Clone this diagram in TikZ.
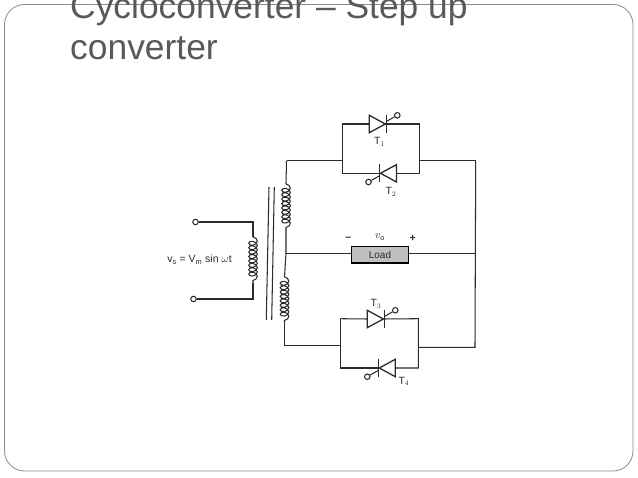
\documentclass[tikz,border=0pt]{standalone}
\usepackage{fontspec}
\setmainfont{Liberation Sans}
\usetikzlibrary{decorations.pathmorphing}
\definecolor{titlegray}{HTML}{595959}
\definecolor{framegray}{HTML}{8C8C8C}
\definecolor{inkgray}{HTML}{2B2B2B}
\tikzset{
  wire/.style={draw=inkgray, line width=1.05pt},
  winding/.style={wire, decorate, decoration={coil, aspect=0.7, segment length=4.4pt, amplitude=4.3pt}},
  term/.style={circle, draw=inkgray, line width=1.05pt, fill=white, inner sep=0pt, minimum size=5.5pt},
  lab/.style={inner sep=0pt, text=inkgray, font=\fontsize{10.5}{12}\selectfont},
  thyr/.pic={
    \coordinate (-a) at (-8,0);
    \coordinate (-k) at (8,0);
    \draw[wire, line width=1.3pt] (-8,-8.7) -- (-8,8.7) -- (8,0) -- cycle;
    \draw[wire, line width=1.3pt] (9,-9) -- (9,9);
    \node[term] (-g) at (20,-8.7) {};
    \coordinate (-b) at (9,-2.5);
    \draw[wire] (-b) -- (-g);
  }
}
\begin{document}
\begin{tikzpicture}[x=1pt, y=-1pt]
  \useasboundingbox (0,0) rectangle (638,478);
  \fill[white] (0,0) rectangle (638,478);
  \draw[framegray, line width=0.8pt, rounded corners=20pt] (4.5,4.5) rectangle (633,471);
  \node[anchor=base west, inner sep=0pt, text=titlegray, font=\fontsize{35.4}{41}\selectfont] (title1) at (70,18.5) {Cycloconverter – Step up};
  \node[anchor=base west, inner sep=0pt, text=titlegray, font=\fontsize{35.4}{41}\selectfont] (title2) at (70,59.5) {converter};

  % primary
  \node[term] (s1) at (195.5,222) {};
  \node[term] (s2) at (193.5,299) {};
  \coordinate (p1) at (253,222);
  \coordinate (p2) at (253,237);
  \coordinate (p3) at (253,283);
  \coordinate (p4) at (253,299);
  \draw[wire] (s1) -- (p1) -- (p2);
  \draw[wire] (p3) -- (p4) -- (s2);
  \draw[winding] (p2) -- (p3);
  \node[lab] (vs) at (199.5,260) {v$_{\mathrm{s}}$ = V$_{\mathrm{m}}$ sin $\omega$t};

  % core
  \coordinate (c1) at (269,187);
  \coordinate (c2) at (266.3,320);
  \coordinate (c3) at (274.3,187);
  \coordinate (c4) at (271.7,320);
  \draw[wire] (c1) -- (c2);
  \draw[wire] (c3) -- (c4);

  % secondary
  \coordinate (u1) at (286.5,160.7);
  \coordinate (u2) at (286,184);
  \coordinate (u3) at (286,230);
  \coordinate (m) at (286,253.3);
  \coordinate (l1) at (284.5,277);
  \coordinate (l2) at (284.5,322);
  \coordinate (l3) at (284.5,345.7);
  \draw[winding] (u2) -- (u3);
  \draw[winding] (l1) -- (l2);
  \draw[wire] (u1) -- (u2);
  \draw[wire] (u3) -- (m) -- (l1);
  \draw[wire] (l2) -- (l3);

  % thyristors
  \pic (t1) at (377.3,124) {thyr};
  \pic[rotate=180] (t2) at (388.5,173.3) {thyr};
  \pic (t3) at (375.3,319) {thyr};
  \pic[rotate=180] (t4) at (387.3,368) {thyr};
  \node[lab] (lt1) at (379.5,142) {T$_1$};
  \node[lab] (lt2) at (391,192) {T$_2$};
  \node[lab] (lt3) at (376,304) {T$_3$};
  \node[lab] (lt4) at (404,381.5) {T$_4$};

  % upper pair
  \coordinate (a1) at (342.3,124);
  \coordinate (a2) at (342.3,160.7);
  \coordinate (a3) at (342.3,173.3);
  \coordinate (b1) at (419.7,124);
  \coordinate (b2) at (419.7,160.7);
  \coordinate (b3) at (419.7,173.3);
  \coordinate (r1) at (475.7,160.7);
  \draw[wire] (a1) -- (t1-a);
  \draw[wire] (t1-k) -- (b1) -- (b3) -- (t2-a);
  \draw[wire] (t2-k) -- (a3) -- (a1);
  \draw[wire] (u1) -- (a2);
  \draw[wire] (b2) -- (r1);

  % lower pair
  \coordinate (d1) at (340.3,318.7);
  \coordinate (d2) at (340.3,345.7);
  \coordinate (d3) at (340.3,368);
  \coordinate (e1) at (418.3,318.7);
  \coordinate (e2) at (418.3,347.3);
  \coordinate (e3) at (418.3,368);
  \coordinate (r3) at (475,347.3);
  \draw[wire] (d1) -- (t3-a);
  \draw[wire] (t3-k) -- (e1) -- (e3) -- (t4-a);
  \draw[wire] (t4-k) -- (d3) -- (d1);
  \draw[wire] (l3) -- (d2);
  \draw[wire] (e2) -- (r3) -- (r1);

  % load
  \node[draw=black, line width=1.3pt, fill=gray!50, minimum width=57pt, minimum height=16.5pt, inner sep=0pt, font=\fontsize{10}{12}\selectfont, text=inkgray] (load) at (380,254.7) {Load};
  \coordinate (r2) at (475.5,253.3);
  \draw[wire] (m) -- (load.west |- m);
  \draw[wire] (load.east |- r2) -- (r2);
  \node[lab] (vo) at (380,237.5) {$v_{\mathrm{o}}$};
  \node[lab] (neg) at (348.3,239.3) {\textbf{–}};
  \node[lab] (pos) at (412.7,238.7) {\textbf{+}};
\end{tikzpicture}
\end{document}
